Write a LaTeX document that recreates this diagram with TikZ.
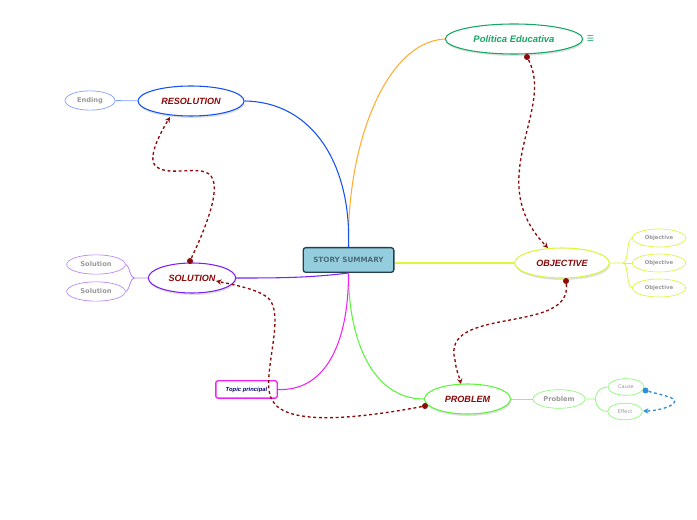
\documentclass[tikz,border=0pt]{standalone}
\usepackage{fontspec}
\setmainfont{Liberation Sans}
\newfontfamily\labelfont{DejaVu Sans}
\usetikzlibrary{shapes.geometric,arrows.meta,shadows}
\definecolor{linkred}{HTML}{8B0A0A}
\definecolor{edugreen}{HTML}{16A765}
\definecolor{linkblue}{HTML}{2F8FD8}
\definecolor{reso}{HTML}{1450F5}
\definecolor{solu}{HTML}{7A22F5}
\definecolor{obje}{HTML}{DDF53C}
\definecolor{prob}{HTML}{5CF53C}
\definecolor{topi}{HTML}{F022F5}
\definecolor{edge}{HTML}{FFAE33}
\definecolor{boxfill}{HTML}{94CDDD}
\definecolor{boxline}{HTML}{24404F}
\definecolor{boxtext}{HTML}{4D6B78}
\tikzset{
  mainbox/.style={draw=boxline, line width=1pt, rounded corners=2pt, fill=boxfill, minimum width=68pt, minimum height=18.5pt, inner sep=0pt, text=boxtext, font=\labelfont\bfseries\fontsize{5.4}{6}\selectfont},
  topic/.style={ellipse, draw=#1, fill=white, line width=0.8pt, inner sep=0pt, text=linkred, font=\bfseries\itshape\fontsize{6.8}{8}\selectfont, copy shadow={shadow xshift=0.5pt, shadow yshift=-1.5pt, draw=none, fill=black!12}},
  subtopic/.style={ellipse, draw=#1, fill=white, line width=0.5pt, inner sep=0pt, text=black!40, font=\labelfont\bfseries\fontsize{5}{6}\selectfont},
  mainlink/.style={draw=#1, line width=0.8pt},
  sublink/.style={draw=#1, line width=0.6pt},
  reflink/.style={draw=linkred, line width=1pt, dash pattern=on 2.2pt off 2pt, -{Stealth[open,length=4pt,width=4pt]}},
  dotmark/.style={circle, fill=#1, inner sep=0pt, minimum size=4.5pt}
}
\begin{document}
\begin{tikzpicture}[x=0.75pt, y=-0.75pt]
  \useasboundingbox (0,0) rectangle (697,520);

  % main topics
  \node[mainbox] (summary) at (348.5,260) {STORY SUMMARY};
  \node[topic=edugreen, minimum width=103pt, minimum height=22.5pt, text=edugreen, font=\bfseries\itshape\fontsize{7.1}{8}\selectfont] (politica) at (514,39) {Política Educativa};
  \node[topic=reso, minimum width=79.5pt, minimum height=22.5pt] (resolution) at (191,101) {RESOLUTION};
  \node[topic=solu, minimum width=65.5pt, minimum height=22.5pt] (solution) at (192,278) {SOLUTION};
  \node[topic=obje, minimum width=71pt, minimum height=22.5pt] (objective) at (562,263) {OBJECTIVE};
  \node[topic=prob, minimum width=64.5pt, minimum height=22.5pt] (problem) at (467.5,399) {PROBLEM};
  \node[draw=topi, fill=white, line width=1pt, rounded corners=1.5pt, minimum width=46pt, minimum height=13pt, inner sep=0pt, text=blue!50!black, font=\bfseries\itshape\fontsize{4.4}{5}\selectfont] (principal) at (246.5,389.5) {Topic principal};
  \node[text=edugreen, font=\labelfont\fontsize{6}{7}\selectfont, inner sep=0pt] (menu) at (590.5,39) {☰};

  % subtopics
  \node[subtopic=reso!55, minimum width=37.5pt, minimum height=14.5pt] (ending) at (90,100.5) {Ending};
  \node[subtopic=solu!55, minimum width=44pt, minimum height=14.5pt] (solone) at (96,264.5) {Solution};
  \node[subtopic=solu!55, minimum width=44pt, minimum height=14.5pt] (soltwo) at (96,291.5) {Solution};
  \node[subtopic=obje, minimum width=40pt, minimum height=13.5pt, font=\labelfont\bfseries\fontsize{4}{5}\selectfont] (objone) at (659,238) {Objective};
  \node[subtopic=obje, minimum width=40pt, minimum height=13.5pt, font=\labelfont\bfseries\fontsize{4}{5}\selectfont] (objtwo) at (659,263) {Objective};
  \node[subtopic=obje, minimum width=40pt, minimum height=13.5pt, font=\labelfont\bfseries\fontsize{4}{5}\selectfont] (objthree) at (659,288) {Objective};
  \node[subtopic=prob!70, minimum width=39pt, minimum height=14pt] (probsub) at (559,399) {Problem};
  \node[subtopic=prob!70, minimum width=27pt, minimum height=12.5pt, font=\labelfont\fontsize{3.8}{5}\selectfont] (cause) at (626,387) {Cause};
  \node[subtopic=prob!70, minimum width=26pt, minimum height=12.5pt, font=\labelfont\fontsize{3.8}{5}\selectfont] (effect) at (625,411.5) {Effect};

  % main links
  \draw[mainlink=edge] (politica.west) .. controls +(-60,3) and +(-2,-100) .. (summary.north);
  \draw[mainlink=reso] (resolution.east) .. controls +(70,1) and +(3,-80) .. (summary.north);
  \draw[mainlink=solu] (solution.east) .. controls +(40,0) and +(-40,5) .. (summary.south);
  \draw[mainlink=obje, line width=1pt] (summary.east |- objective) -- (objective.west);
  \draw[mainlink=prob] (summary.south) .. controls +(0,70) and +(-50,0) .. (problem.west);
  \draw[mainlink=topi] (summary.south) .. controls +(0,75) and +(45,2) .. (principal.east);

  % sub links
  \draw[sublink=reso!55] (ending) -- (resolution);
  \draw[sublink=solu!55] (solution.west) -- ++(-13,0) coordinate (solfork) .. controls +(-5,0) and +(4,1) .. (solone.east);
  \draw[sublink=solu!55] (solfork) .. controls +(-5,0) and +(4,-1) .. (soltwo.east);
  \draw[sublink=obje] (objective.east) -- ++(13,0) coordinate (objfork) .. controls +(6,0) and +(-6,2) .. (objone.west);
  \draw[sublink=obje] (objfork) -- (objtwo.west);
  \draw[sublink=obje] (objfork) .. controls +(6,0) and +(-6,-2) .. (objthree.west);
  \draw[sublink=prob!70] (problem) -- (probsub);
  \draw[sublink=prob!70] (probsub) -- ++(36.5,0) coordinate (probfork) .. controls +(0,-8) and +(-6,0) .. (cause.west);
  \draw[sublink=prob!70] (probfork) .. controls +(0,8) and +(-6,0) .. (effect.west);

  % relationship links
  \node[dotmark=linkred] (politicadot) at (527,57) {};
  \node[dotmark=linkred] (solutiondot) at (190,261) {};
  \node[dotmark=linkred] (objectivedot) at (566,281) {};
  \node[dotmark=linkred] (problemdot) at (425,406) {};
  \node[dotmark=linkblue] (causedot) at (645.5,390.5) {};
  \coordinate (objectivetip) at (548,248);
  \coordinate (resolutiontip) at (170,117);
  \coordinate (problemtip) at (461,384);
  \coordinate (solutiontip) at (216,281);
  \coordinate (effecttip) at (643,411);
  \draw[reflink] (politicadot) .. controls (555,110) and (482,180) .. (objectivetip);
  \draw[reflink] (solutiondot) .. controls (207,225) and (226,178) .. (205,172) .. controls (190,167) and (160,178) .. (153,162) .. controls (151,150) and (162,130) .. (resolutiontip);
  \draw[reflink] (objectivedot) .. controls (572,335) and (440,305) .. (455,360) .. controls (456,370) and (459,376) .. (problemtip);
  \draw[reflink] (problemdot) .. controls (350,420) and (285,425) .. (272,400) .. controls (260,380) and (285,320) .. (270,300) .. controls (262,290) and (235,285) .. (solutiontip);
  \draw[draw=linkblue, line width=1pt, dash pattern=on 2.2pt off 2pt, -{Stealth[open,length=4pt,width=4pt]}] (causedot) .. controls (665,396) and (680,398) .. (673,404) .. controls (668,408) and (655,411) .. (effecttip);
\end{tikzpicture}
\end{document}
